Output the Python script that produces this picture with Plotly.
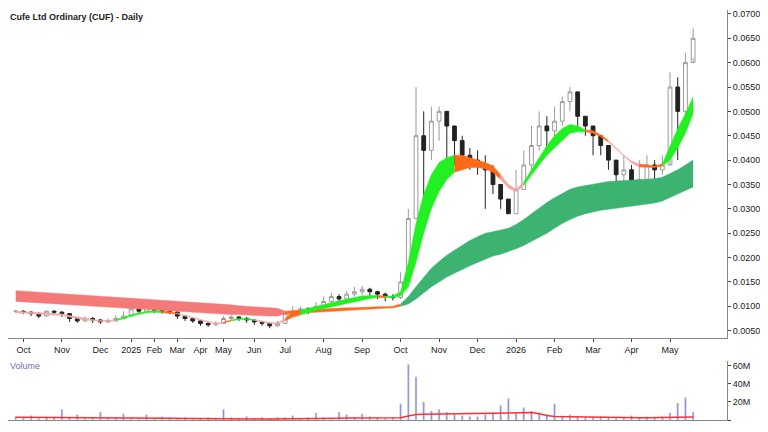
import plotly.graph_objects as go
from plotly.subplots import make_subplots

# one bar per ~week, month of each bar
months = (["Sep"] + ["Oct"]*5 + ["Nov"]*5 + ["Dec"]*4 + ["2025"]*3 + ["Feb"]*3 + ["Mar"]*3
          + ["Apr"]*3 + ["May"]*4 + ["Jun"]*4 + ["Jul"]*5 + ["Aug"]*5 + ["Sep"]*5
          + ["Oct"]*5 + ["Nov"]*5 + ["Dec"]*5 + ["2026"]*5 + ["Feb"]*5 + ["Mar"]*5
          + ["Apr"]*5 + ["May"]*4)

close = [0.0090,
         0.0088, 0.0085, 0.0080, 0.0090, 0.0088,
         0.0085, 0.0075, 0.0070, 0.0075, 0.0072,
         0.0068, 0.0070, 0.0075, 0.0080,
         0.0095, 0.0090, 0.0100,
         0.0092, 0.0090, 0.0088,
         0.0080, 0.0075, 0.0070,
         0.0065, 0.0062, 0.0065,
         0.0075, 0.0078, 0.0075, 0.0072,
         0.0068, 0.0065, 0.0060, 0.0065,
         0.0085, 0.0090, 0.0095, 0.0090, 0.0100,
         0.0110, 0.0120, 0.0115, 0.0125, 0.0130,
         0.0135, 0.0130, 0.0125, 0.0120, 0.0118,
         0.0150, 0.0280, 0.0450, 0.0420, 0.0480,
         0.0500, 0.0470, 0.0440, 0.0410, 0.0400,
         0.0390, 0.0380, 0.0350, 0.0320, 0.0290,
         0.0340, 0.0390, 0.0430, 0.0470, 0.0460,
         0.0480, 0.0520, 0.0540, 0.0490, 0.0470,
         0.0450, 0.0430, 0.0400, 0.0370, 0.0380,
         0.0340, 0.0360, 0.0390, 0.0380, 0.0390,
         0.0550, 0.0500, 0.0600, 0.0650]
high = [0.0092,
        0.0092, 0.0090, 0.0088, 0.0092, 0.0092,
        0.0090, 0.0086, 0.0078, 0.0080, 0.0078,
        0.0074, 0.0075, 0.0082, 0.0090,
        0.0100, 0.0098, 0.0110,
        0.0100, 0.0095, 0.0092,
        0.0090, 0.0082, 0.0078,
        0.0072, 0.0068, 0.0070,
        0.0080, 0.0082, 0.0080, 0.0078,
        0.0074, 0.0070, 0.0066, 0.0070,
        0.0090, 0.0100, 0.0100, 0.0098, 0.0108,
        0.0120, 0.0128, 0.0125, 0.0132, 0.0140,
        0.0142, 0.0138, 0.0132, 0.0128, 0.0125,
        0.0170, 0.0300, 0.0550, 0.0500, 0.0510,
        0.0510, 0.0500, 0.0470, 0.0450, 0.0425,
        0.0420, 0.0410, 0.0390, 0.0350, 0.0320,
        0.0380, 0.0420, 0.0470, 0.0500, 0.0490,
        0.0510, 0.0530, 0.0550, 0.0540, 0.0490,
        0.0470, 0.0450, 0.0420, 0.0400, 0.0410,
        0.0390, 0.0400, 0.0410, 0.0400, 0.0410,
        0.0580, 0.0570, 0.0620, 0.0670]
low = [0.0086,
       0.0084, 0.0080, 0.0076, 0.0082, 0.0084,
       0.0078, 0.0068, 0.0066, 0.0068, 0.0066,
       0.0064, 0.0066, 0.0068, 0.0074,
       0.0080, 0.0086, 0.0088,
       0.0086, 0.0085, 0.0084,
       0.0074, 0.0070, 0.0066,
       0.0060, 0.0058, 0.0060,
       0.0064, 0.0072, 0.0070, 0.0066,
       0.0062, 0.0060, 0.0055, 0.0058,
       0.0064, 0.0082, 0.0086, 0.0084, 0.0088,
       0.0098, 0.0108, 0.0108, 0.0112, 0.0120,
       0.0122, 0.0120, 0.0115, 0.0110, 0.0112,
       0.0115, 0.0140, 0.0280, 0.0300, 0.0400,
       0.0440, 0.0400, 0.0390, 0.0380, 0.0380,
       0.0370, 0.0300, 0.0330, 0.0300, 0.0290,
       0.0290, 0.0340, 0.0380, 0.0420, 0.0410,
       0.0440, 0.0470, 0.0500, 0.0470, 0.0450,
       0.0410, 0.0410, 0.0380, 0.0330, 0.0340,
       0.0320, 0.0330, 0.0350, 0.0360, 0.0370,
       0.0400, 0.0400, 0.0480, 0.0610]

short_up = [0.0090, 0.0089, 0.0088, 0.0087, 0.0087, 0.0086, 0.0084, 0.0081, 0.0078, 0.0075, 0.0073,
            0.0071, 0.0071, 0.0073, 0.0077, 0.0083, 0.0087, 0.0090, 0.0091, 0.0090, 0.0089,
            0.0086, 0.0082, 0.0078, 0.0073, 0.0069, 0.0065, 0.0068, 0.0072, 0.0075, 0.0075,
            0.0073, 0.0070, 0.0067, 0.0066, 0.0075, 0.0090, 0.0092, 0.0096, 0.0100,
            0.0103, 0.0107, 0.0111, 0.0115, 0.0118, 0.0121, 0.0122, 0.0122, 0.0121, 0.0121,
            0.0130, 0.0190, 0.0270, 0.0330, 0.0370, 0.0395, 0.0405, 0.0410, 0.0410, 0.0405,
            0.0400, 0.0395, 0.0388, 0.0370, 0.0350, 0.0340, 0.0355, 0.0380, 0.0405, 0.0430,
            0.0450, 0.0465, 0.0473, 0.0470, 0.0462, 0.0460, 0.0452, 0.0440, 0.0425, 0.0410,
            0.0398, 0.0392, 0.0390, 0.0388, 0.0392, 0.0430, 0.0465, 0.0495, 0.0530]
short_lo = [0.0087, 0.0086, 0.0085, 0.0084, 0.0084, 0.0083, 0.0081, 0.0078, 0.0075, 0.0072, 0.0071,
            0.0069, 0.0069, 0.0071, 0.0074, 0.0080, 0.0084, 0.0087, 0.0088, 0.0087, 0.0086,
            0.0084, 0.0080, 0.0076, 0.0071, 0.0067, 0.0063, 0.0066, 0.0070, 0.0073, 0.0073,
            0.0071, 0.0068, 0.0065, 0.0064, 0.0070, 0.0078, 0.0082, 0.0087, 0.0092,
            0.0095, 0.0099, 0.0102, 0.0106, 0.0109, 0.0113, 0.0116, 0.0118, 0.0118, 0.0118,
            0.0121, 0.0140, 0.0190, 0.0250, 0.0300, 0.0335, 0.0360, 0.0375, 0.0380, 0.0385,
            0.0385, 0.0382, 0.0375, 0.0360, 0.0343, 0.0335, 0.0348, 0.0370, 0.0390, 0.0410,
            0.0425, 0.0440, 0.0455, 0.0458, 0.0458, 0.0455, 0.0448, 0.0437, 0.0422, 0.0407,
            0.0394, 0.0386, 0.0385, 0.0385, 0.0388, 0.0400, 0.0425, 0.0455, 0.0495]
# g = rising (green), o = falling (orange), p = falling, narrow (pink)
short_col = list("ppppppppppp" "ppggggggoo" "pppppp" "oggg" "pppp"
                 "oo" "gggggggggg" "o" "gg"
                 "ggggggg" "oooooo" "ppp" "gggggggg" "ooo" "pppp" "ooo" "ggggg")

long_up = [0.0132, 0.0131, 0.0130, 0.0129, 0.0128, 0.0127, 0.0126, 0.0125, 0.0124, 0.0123, 0.0122,
           0.0121, 0.0120, 0.0119, 0.0118, 0.0117, 0.0116, 0.0115, 0.0114, 0.0113, 0.0112,
           0.0111, 0.0110, 0.0109, 0.0108, 0.0107, 0.0106, 0.0104, 0.0103, 0.0101, 0.0100,
           0.0099, 0.0098, 0.0097, 0.0096, 0.0090, 0.0091, 0.0092, 0.0093, 0.0094,
           0.0095, 0.0095, 0.0096, 0.0097, 0.0097, 0.0098, 0.0098, 0.0099, 0.0099, 0.0100,
           0.0105, 0.0120, 0.0140, 0.0160, 0.0178, 0.0192, 0.0205, 0.0215, 0.0225, 0.0235,
           0.0243, 0.0250, 0.0253, 0.0256, 0.0260, 0.0268, 0.0278, 0.0290, 0.0302, 0.0313,
           0.0323, 0.0332, 0.0340, 0.0345, 0.0348, 0.0351, 0.0354, 0.0356, 0.0357, 0.0358,
           0.0359, 0.0360, 0.0361, 0.0362, 0.0365, 0.0372, 0.0380, 0.0390, 0.0400]
long_lo = [0.0110, 0.0109, 0.0108, 0.0107, 0.0107, 0.0106, 0.0105, 0.0104, 0.0103, 0.0102, 0.0101,
           0.0100, 0.0099, 0.0098, 0.0097, 0.0096, 0.0095, 0.0094, 0.0093, 0.0092, 0.0091,
           0.0090, 0.0089, 0.0088, 0.0087, 0.0086, 0.0085, 0.0084, 0.0083, 0.0083, 0.0082,
           0.0081, 0.0081, 0.0080, 0.0080, 0.0084, 0.0085, 0.0086, 0.0087, 0.0088,
           0.0089, 0.0089, 0.0090, 0.0091, 0.0092, 0.0093, 0.0094, 0.0095, 0.0096, 0.0097,
           0.0100, 0.0105, 0.0115, 0.0128, 0.0140, 0.0150, 0.0160, 0.0168, 0.0176, 0.0183,
           0.0190, 0.0197, 0.0203, 0.0207, 0.0212, 0.0218, 0.0225, 0.0233, 0.0242, 0.0250,
           0.0260, 0.0270, 0.0278, 0.0285, 0.0290, 0.0294, 0.0297, 0.0299, 0.0301, 0.0303,
           0.0305, 0.0307, 0.0309, 0.0312, 0.0316, 0.0323, 0.0330, 0.0337, 0.0345]
long_col = ["r"]*35 + ["o"]*15 + ["d"]*39

volume = [4, 3, 5, 2, 3, 4, 12, 3, 6, 2, 3, 9, 2, 3, 7, 3, 2, 6, 2, 4, 3, 2, 3, 2, 2, 3, 2,
          12, 3, 2, 4, 2, 3, 2, 3, 3, 5, 2, 3, 8, 3, 2, 9, 6, 3, 7, 4, 3, 2, 3,
          18, 62, 48, 20, 10, 12, 9, 6, 5, 4, 4, 6, 8, 16, 24, 8, 14, 10, 8, 6,
          18, 5, 6, 4, 3, 3, 4, 3, 2, 3, 5, 3, 4, 3, 4, 8, 19, 25, 9]
vol_ma = [3.0, 3.0, 2.9, 2.8, 2.8, 2.7, 2.7, 2.6, 2.5, 2.4, 2.3, 2.3, 2.2, 2.2, 2.2, 2.1, 2.0,
          2.0, 1.9, 1.9, 1.8, 1.7, 1.6, 1.6, 1.5, 1.5, 1.5, 1.5, 1.5, 1.4, 1.3, 1.3, 1.2, 1.2,
          1.2, 1.3, 1.4, 1.5, 1.6, 1.7, 1.8, 1.9, 2.0, 2.1, 2.2, 2.3, 2.3, 2.3, 2.3, 2.3,
          2.5, 4.5, 6.0, 6.5, 6.6, 6.8, 7.0, 7.2, 7.3, 7.4, 7.5, 7.6, 7.8, 8.0, 8.2, 8.5, 8.5,
          8.2, 7.0, 5.0, 4.0, 3.8, 3.8, 3.9, 3.9, 3.6, 3.3, 3.0, 2.8, 2.7, 2.6, 2.6, 2.6, 2.6,
          2.7, 2.8, 3.0, 3.2, 3.3]

price_ticks = [round(i * 0.005, 4) for i in range(1, 15)]
price_labels = ["%.4f" % v for v in price_ticks]

x = list(range(len(close)))
opens = [close[0]] + close[:-1]

tickvals, ticktext = [], []
for i, m in enumerate(months):
    if i > 0 and m != months[i - 1]:
        tickvals.append(i)
        ticktext.append(m)

fig = make_subplots(rows=2, cols=1, shared_xaxes=True)

def add_band(up, lo, cols, palette):
    start = 0
    for i in range(1, len(cols) + 1):
        if i == len(cols) or cols[i] != cols[start]:
            end = min(i + 1, len(cols))
            xs = x[start:end]
            fig.add_trace(go.Scatter(x=xs, y=lo[start:end], mode="lines",
                                     line=dict(width=0.5, color=palette[cols[start]]),
                                     hoverinfo="skip"), row=1, col=1)
            fig.add_trace(go.Scatter(x=xs, y=up[start:end], mode="lines", fill="tonexty",
                                     fillcolor=palette[cols[start]],
                                     line=dict(width=0.5, color=palette[cols[start]]),
                                     hoverinfo="skip"), row=1, col=1)
            start = i

add_band(long_up, long_lo, long_col, {"r": "#f47a7a", "o": "#ff6a1a", "d": "#3cb371"})
add_band(short_up, short_lo, short_col, {"g": "#22f022", "o": "#ff6a1a", "p": "#f4a6a6"})

fig.add_trace(go.Candlestick(x=x, open=opens, high=high, low=low, close=close,
                             increasing=dict(line=dict(color="#9a9a9a", width=1), fillcolor="white"),
                             decreasing=dict(line=dict(color="#222222", width=1), fillcolor="#222222"),
                             whiskerwidth=0), row=1, col=1)

fig.add_trace(go.Bar(x=x, y=[v * 1e6 for v in volume], marker_color="#8c8cd8", width=0.25),
              row=2, col=1)
fig.add_trace(go.Scatter(x=x, y=[v * 1e6 for v in vol_ma], mode="lines",
                         line=dict(color="#ff3030", width=1.5)), row=2, col=1)

# no fixed size: let the figure fill the browser window
fig.update_layout(
    autosize=True, showlegend=False, plot_bgcolor="white", paper_bgcolor="white",
    margin=dict(l=0, r=30, t=2, b=4),
    font=dict(family="Arial", size=9, color="#222"),
    yaxis=dict(domain=[0.2, 1.0]),
    yaxis2=dict(domain=[0.0, 0.145]),
)
fig.update_xaxes(range=[-1, 92.4], showgrid=False, rangeslider_visible=False,
                 showline=True, linecolor="#888", mirror=False)
fig.update_xaxes(tickvals=tickvals, ticktext=ticktext, showticklabels=True, ticks="outside",
                 ticklen=3, tickfont=dict(size=9), row=1, col=1)
fig.update_xaxes(showticklabels=False, row=2, col=1)
fig.update_yaxes(side="right", showgrid=False, showline=True, linecolor="#888", ticks="outside",
                 ticklen=3)
fig.update_yaxes(range=[0.0035, 0.0708], tickvals=price_ticks, ticktext=price_labels,
                 row=1, col=1)
fig.update_yaxes(range=[0, 66e6], tickvals=[0, 20e6, 40e6, 60e6],
                 ticktext=["0", "20M", "40M", "60M"], row=2, col=1)

fig.add_annotation(text="<b>Cufe Ltd Ordinary (CUF) - Daily</b>", xref="paper", yref="paper",
                   x=0, y=1.0, xanchor="left", yanchor="top", showarrow=False,
                   font=dict(size=9, color="#222"))
fig.add_annotation(text="Volume", xref="paper", yref="paper", x=0, y=0.15,
                   xanchor="left", yanchor="top", showarrow=False,
                   font=dict(size=9, color="#7070c0"))

fig.write_html("out.html")
